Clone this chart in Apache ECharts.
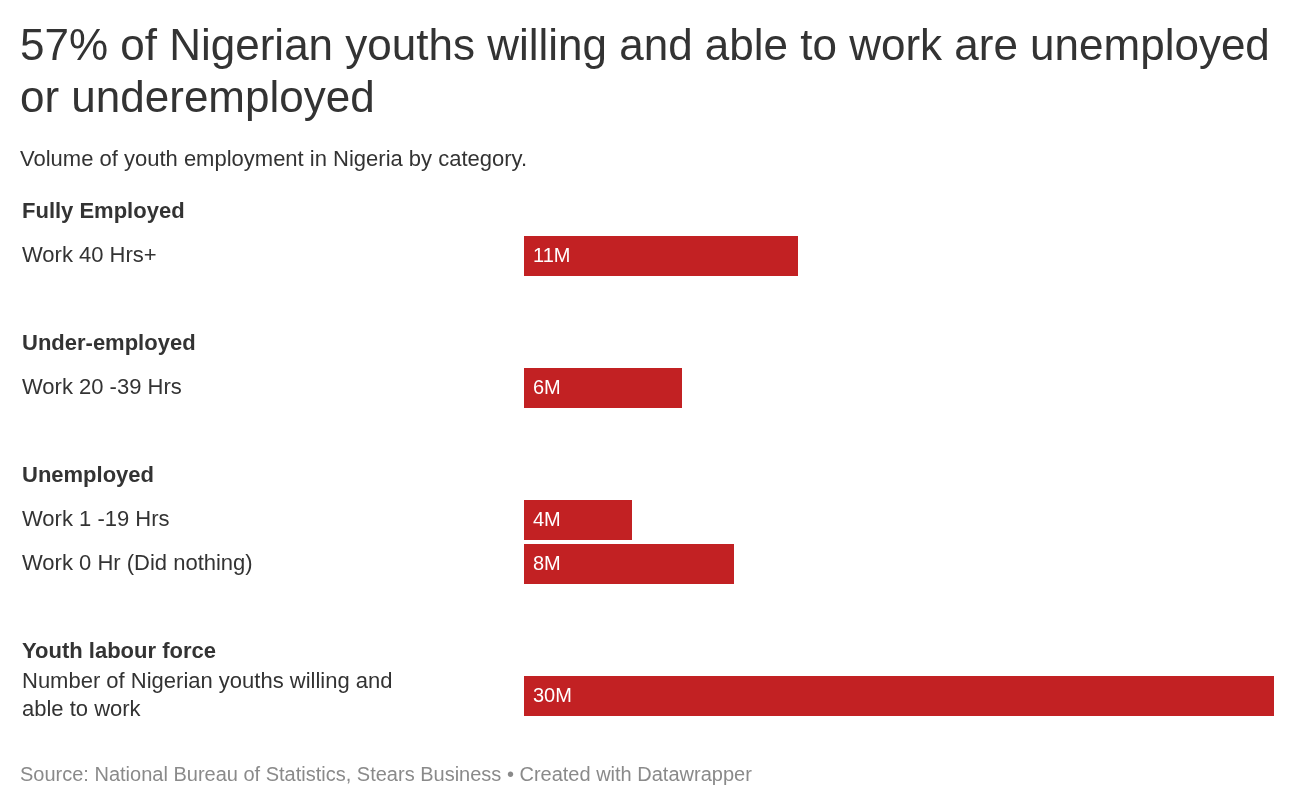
<!DOCTYPE html>
<html><head><meta charset="utf-8">
<script src="https://cdn.jsdelivr.net/npm/echarts@6/dist/echarts.min.js"></script>
<style>html,body{margin:0;padding:0;background:#fff}#c{width:1296px;height:808px}</style>
</head><body><div id="c"></div>
<script>
const categories = ["Fully Employed","Work 40 Hrs+","","Under-employed","Work 20 -39 Hrs","","Unemployed","Work 1 -19 Hrs","Work 0 Hr (Did nothing)","","Youth labour force","Number of Nigerian youths willing and able to work"];
const headers = ["Fully Employed","Under-employed","Unemployed","Youth labour force"];
const values = [null,10.96,null,null,6.32,null,null,4.32,8.4,null,null,30];
const valueLabels = ["","11M","","","6M","","","4M","8M","","","30M"];
const FF = 'Liberation Sans';
const chart = echarts.init(document.getElementById('c'));
chart.setOption({
  animation:false,
  textStyle:{fontFamily:FF},
  title:[
    {text:'57% of Nigerian youths willing and able to work are unemployed\nor underemployed',left:15,top:17,textStyle:{fontFamily:FF,fontSize:44,fontWeight:'normal',color:'#333',lineHeight:52}},
    {text:'Volume of youth employment in Nigeria by category.',left:15,top:144,textStyle:{fontFamily:FF,fontSize:22,fontWeight:'normal',color:'#333'}},
    {text:'Source: National Bureau of Statistics, Stears Business • Created with Datawrapper',left:15,top:760,textStyle:{fontFamily:FF,fontSize:20,fontWeight:'normal',color:'#8a8a8a'}}
  ],
  grid:{left:524,right:22,top:190,height:528},
  xAxis:{type:'value',min:0,max:30,show:false},
  yAxis:{type:'category',inverse:true,data:categories,axisLine:{show:false},axisTick:{show:false},
    axisLabel:{align:'left',margin:502,width:495,overflow:'break',fontFamily:FF,fontSize:22,color:'#333',lineHeight:28,
      formatter:v=>headers.includes(v)?'{h|'+v+'}':v,
      rich:{h:{fontFamily:FF,fontWeight:'bold',fontSize:22,color:'#333'}}}},
  series:[{type:'bar',data:values,barWidth:40,itemStyle:{color:'#c22123'},
    label:{show:true,position:'insideLeft',color:'#fff',fontFamily:FF,fontSize:20,offset:[4,0],
      formatter:p=>valueLabels[p.dataIndex]}}]
});
</script></body></html>
